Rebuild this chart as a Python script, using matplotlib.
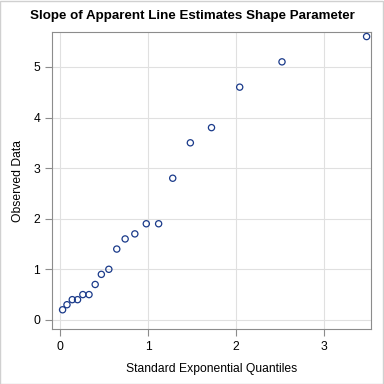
import matplotlib
matplotlib.use("Agg")
import matplotlib.pyplot as plt
from matplotlib.patches import Rectangle

plt.rcParams['font.family'] = ['Liberation Sans', 'DejaVu Sans']

# standard exponential quantiles vs observed data
quantiles = [0.03, 0.08, 0.14, 0.20, 0.26, 0.33, 0.40, 0.47, 0.555, 0.645,
             0.74, 0.85, 0.98, 1.12, 1.28, 1.48, 1.72, 2.04, 2.52, 3.48]
observed = [0.2, 0.3, 0.4, 0.4, 0.5, 0.5, 0.7, 0.9, 1.0, 1.4,
            1.6, 1.7, 1.9, 1.9, 2.8, 3.5, 3.8, 4.6, 5.1, 5.6]

xticks = [0, 1, 2, 3]
yticks = [0, 1, 2, 3, 4, 5]

fig = plt.figure(figsize=(3.84, 3.84), dpi=100)
ax = fig.add_axes([52/384, 1 - 329/384, (371-52)/384, (329-32)/384])

ax.scatter(quantiles, observed, s=20, facecolors='none',
           edgecolors='#1a3a8a', linewidths=0.9, zorder=3)

ax.set_xlim(-0.09, 3.53)
ax.set_ylim(-0.18, 5.69)
ax.set_xticks(xticks)
ax.set_yticks(yticks)
ax.grid(True, color='#e0e0e0', linewidth=0.8)
ax.set_axisbelow(True)
for s in ax.spines.values():
    s.set_color('#8c8c8c')
ax.tick_params(colors='#8c8c8c', labelcolor='black', labelsize=8.7, length=5)

ax.set_xlabel('Standard Exponential Quantiles', fontsize=8.7, labelpad=7)
ax.set_ylabel('Observed Data', fontsize=8.7, labelpad=7)
fig.text(0.5, 1 - 16/384, 'Slope of Apparent Line Estimates Shape Parameter',
         ha='center', va='center', fontsize=9.6, fontweight='bold')

fig.patches.append(Rectangle((0.001, 0.001), 0.997, 0.997, transform=fig.transFigure,
                             fill=False, edgecolor='#d0d0d0', linewidth=1))

fig.savefig('out.png', dpi=100)
